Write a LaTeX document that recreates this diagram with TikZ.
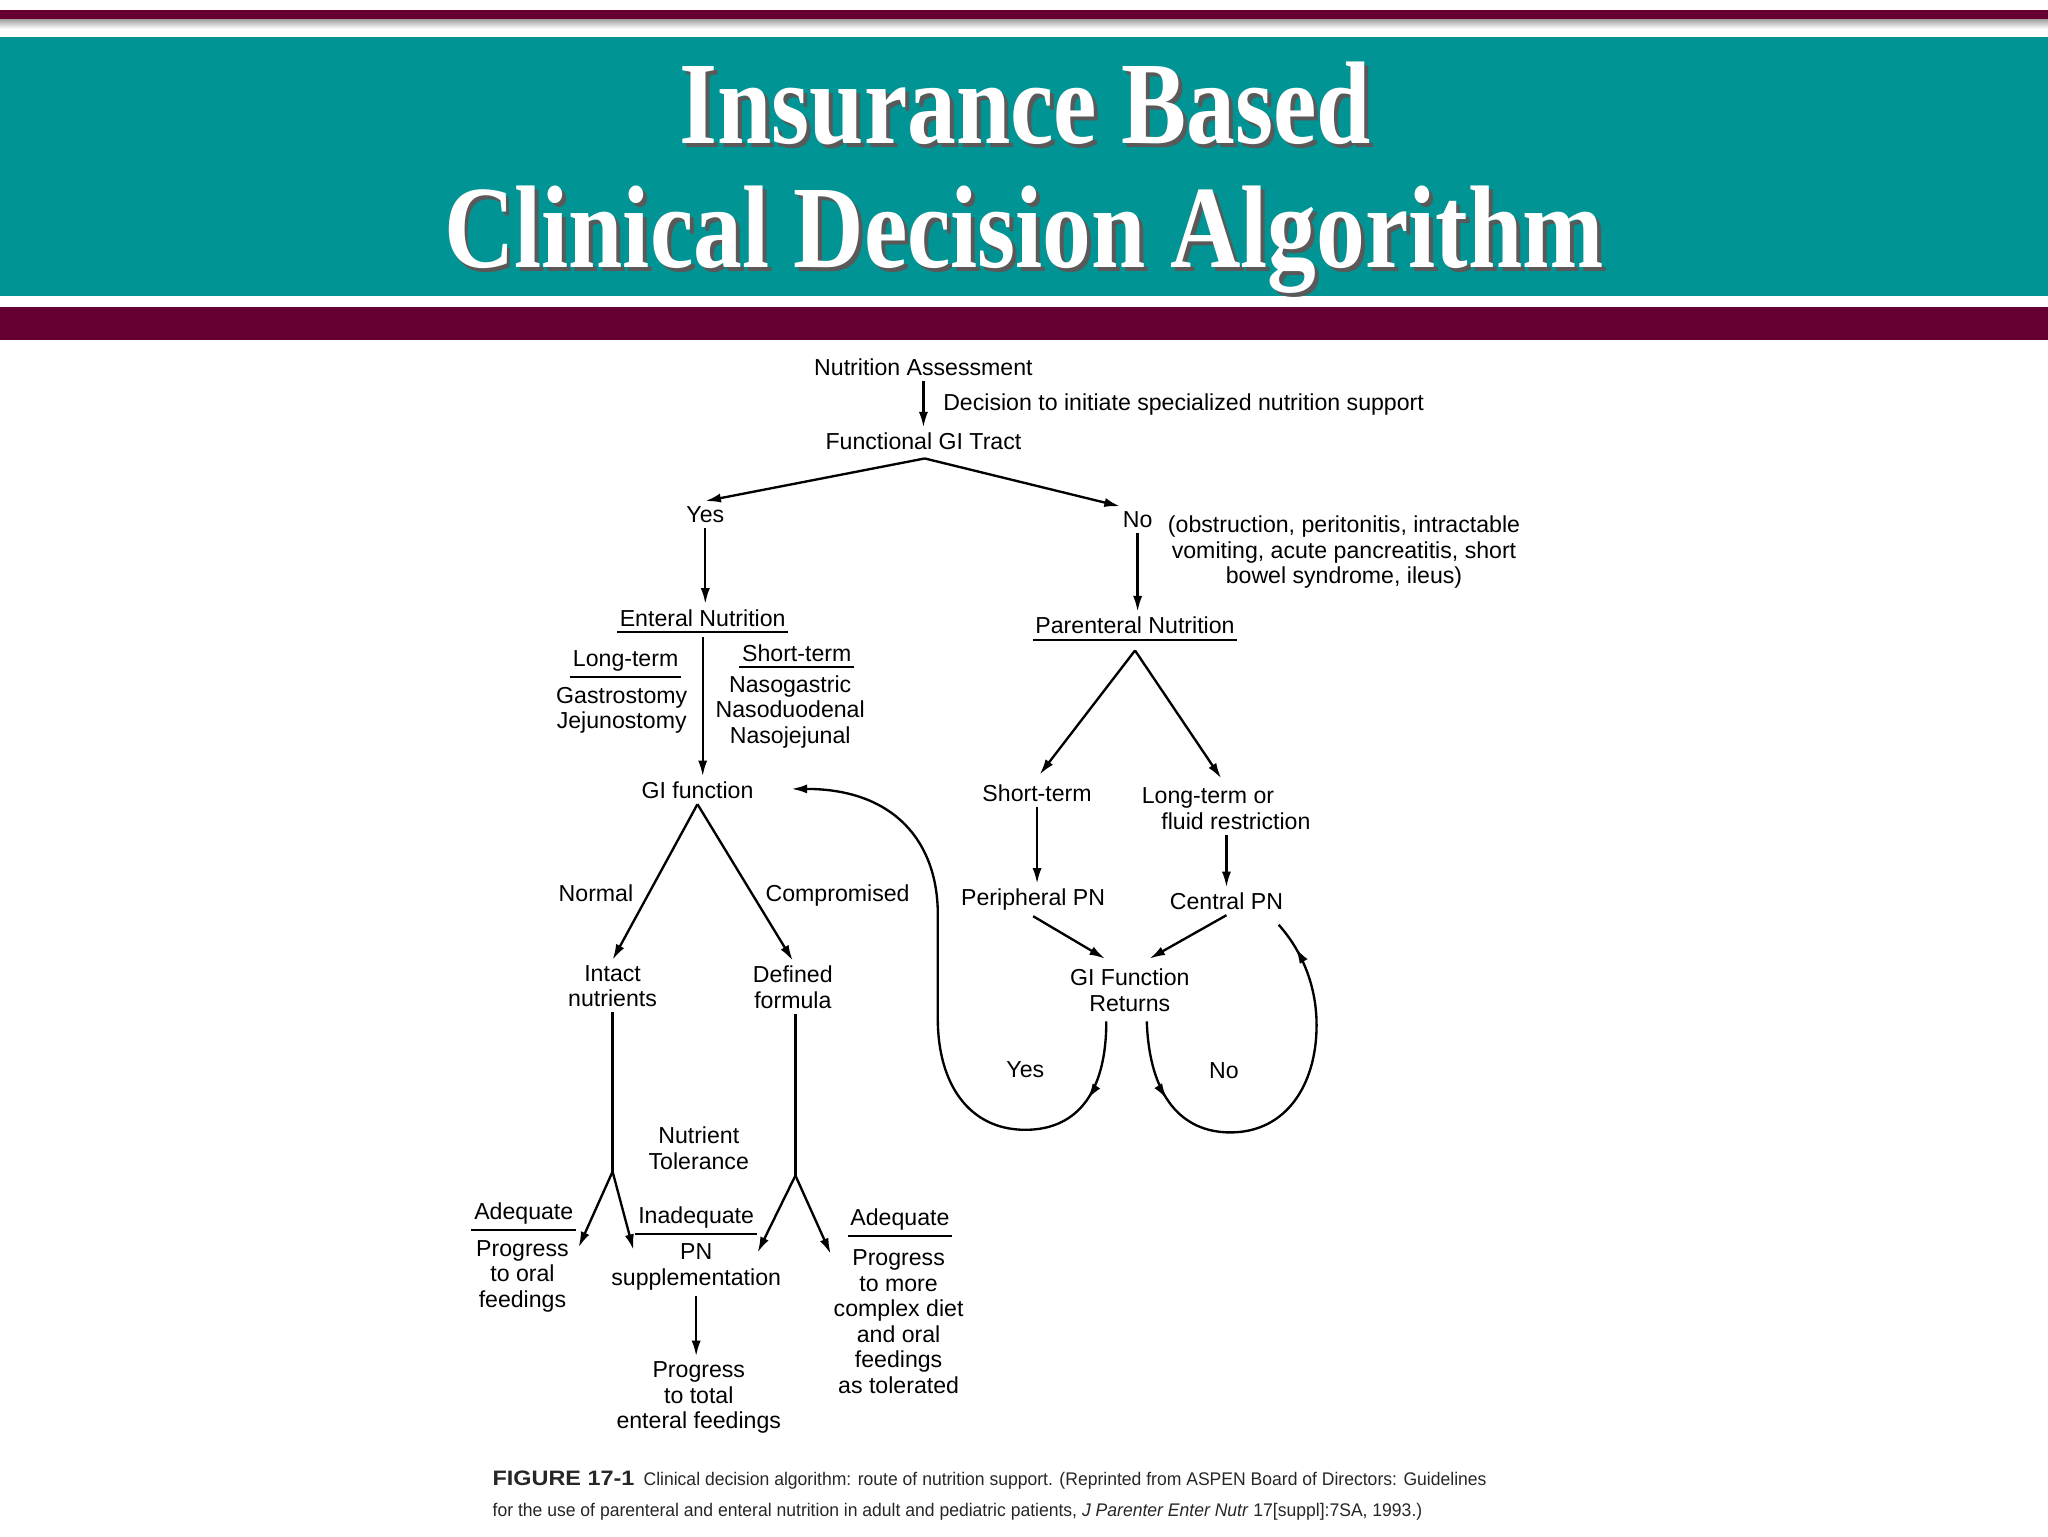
\documentclass[tikz,border=0pt]{standalone}
\usepackage{fontspec}
\setmainfont{Liberation Sans}
\newfontfamily\titlefont[FakeStretch=0.83]{Liberation Serif}
\newfontfamily\capfont[FakeStretch=0.96]{Liberation Sans}
\newfontfamily\figfont[FakeStretch=1.12]{Liberation Sans}
\usetikzlibrary{arrows.meta,decorations.markings,calc}
\definecolor{slideteal}{RGB}{0,148,148}
\definecolor{slidemaroon}{RGB}{102,0,51}
\tikzset{
  txt/.style={inner xsep=2pt, inner ysep=4pt, align=center, font=\fontsize{17.7}{19.5}\selectfont},
  arr/.style={line width=1.8pt, -{Latex[length=12pt,width=7pt]}},
  ln/.style={line width=1.8pt},
  uline/.style={line width=1.4pt},
  midarr/.style={postaction={decorate}, decoration={markings, mark=at position #1 with {\arrow{Latex[length=12pt,width=7pt]}}}},
}
\begin{document}
\begin{tikzpicture}[x=1pt,y=-1pt]
\useasboundingbox (0,0) rectangle (1568,1176);
% slide header
\fill[slidemaroon] (0,8) rectangle (1568,15);
\shade[top color=black!35, bottom color=white] (0,15) rectangle (1568,22);
\fill[slideteal] (0,28) rectangle (1568,227);
\fill[slidemaroon] (0,235) rectangle (1568,260);
\foreach \d/\c in {3/black!65, 0/white} {
  \node[anchor=base, text=\c, font=\titlefont\bfseries\fontsize{90}{90}\selectfont] (titleA\d) at (785+\d,110+\d) {Insurance Based};
  \node[anchor=base, text=\c, font=\titlefont\bfseries\fontsize{90}{90}\selectfont] (titleB\d) at (784+\d,205+\d) {Clinical Decision Algorithm};
}
% top of tree
\node[txt] (assess) at (707,281) {Nutrition Assessment};
\node[txt] (fgi) at (707,338) {Functional GI Tract};
\node[txt, anchor=west] (decide) at (720,310) {Decision to initiate specialized nutrition support};
\coordinate (forkT) at (708,351);
\node[txt] (yes) at (540,394) {Yes};
\node[txt] (no) at (871,398) {No};
\node[txt, anchor=north] (reason) at (1029,391) {(obstruction, peritonitis, intractable\\vomiting, acute pancreatitis, short\\bowel syndrome, ileus)};
% enteral side
\node[txt] (enteral) at (538,473) {Enteral Nutrition};
\node[txt] (longt) at (479,506) {Long-term};
\node[txt] (gastro) at (476,544) {Gastrostomy\\Jejunostomy};
\node[txt] (shortt) at (610,500) {Short-term};
\node[txt] (naso) at (605,545) {Nasogastric\\Nasoduodenal\\Nasojejunal};
\node[txt] (gi) at (534,605) {GI function};
\node[txt, anchor=east] (normal) at (487,684) {Normal};
\node[txt, anchor=west] (comp) at (584,686) {Compromised};
\node[txt] (intact) at (469,755) {Intact\\nutrients};
\node[txt] (defined) at (607,756) {Defined\\formula};
\coordinate (forkL) at (469,897);
\coordinate (forkR) at (609,900);
\node[txt] (toler) at (535,879) {Nutrient\\Tolerance};
\node[txt] (adeqL) at (401,929) {Adequate};
\node[txt] (oral) at (400,977) {Progress\\to oral\\feedings};
\node[txt] (inadeq) at (533,932) {Inadequate};
\node[txt] (pnsup) at (533,970) {PN\\supplementation};
\node[txt] (total) at (535,1070) {Progress\\to total\\enteral feedings};
\node[txt] (adeqR) at (689,934) {Adequate};
\node[txt] (complex) at (688,1012) {Progress\\to more\\complex diet\\and oral\\feedings\\as tolerated};
\coordinate (tipLa) at (443,955);
\coordinate (tipLb) at (485,957);
\coordinate (tipRa) at (580,959);
\coordinate (tipRb) at (636,960);
% parenteral side
\node[txt] (parent) at (869,479) {Parenteral Nutrition};
\coordinate (forkP) at (869,498);
\coordinate (tipPa) at (796,593);
\coordinate (tipPb) at (935,596);
\node[txt] (shortp) at (794,607) {Short-term};
\node[txt, align=left, anchor=north west] (longp) at (872,599) {Long-term or\\\hspace*{15pt}fluid restriction};
\node[txt] (periph) at (791,689) {Peripheral PN};
\node[txt] (central) at (939,690) {Central PN};
\node[txt] (returns) at (865,758) {GI Function\\Returns};
\coordinate (tipRet1) at (846,734);
\coordinate (tipRet2) at (880,734);
\node[txt] (yesR) at (785,819) {Yes};
\node[txt] (noR) at (937,820) {No};
\coordinate (yesStart) at (847,782);
\coordinate (noStart) at (878,782);
\coordinate (noEnd) at (979,708);
\coordinate (tipGI) at (606,604);
% caption
\node[anchor=north west, align=left, inner sep=0, text=black!85, font=\capfont\fontsize{14}{24}\selectfont] (caption) at (377,1126)
  {{\figfont\bfseries\fontsize{16}{24}\selectfont FIGURE 17-1}\enspace Clinical decision algorithm: route of nutrition support. (Reprinted from ASPEN Board of Directors: Guidelines\\
   for the use of parenteral and enteral nutrition in adult and pediatric patients, \textit{J Parenter Enter Nutr} 17[suppl]:7SA, 1993.)};
% connectors
\draw[arr] (assess.south) -- (assess.south |- fgi.north);
\draw[arr] (forkT) -- (yes.north);
\draw[arr] (forkT) -- (no.north west);
\draw[arr] (yes.south) -- (yes.south |- enteral.north);
\draw[arr] (no.south) -- (no.south |- parent.north);
\foreach \n in {enteral,longt,shortt,parent,adeqL,inadeq,adeqR}
  \draw[uline] (\n.south west) -- (\n.south east);
\draw[arr, shorten <=4pt] (enteral.south) -- (enteral.south |- gi.north);
\draw[arr] (gi.south) -- (intact.north);
\draw[arr] (gi.south) -- (defined.north);
\draw[ln] (forkL |- intact.south) -- (forkL);
\draw[ln] (forkR |- defined.south) -- (forkR);
\foreach \f/\t in {forkL/tipLa, forkL/tipLb, forkR/tipRa, forkR/tipRb, forkP/tipPa, forkP/tipPb}
  \draw[arr] (\f) -- (\t);
\draw[arr] (pnsup.south) -- (pnsup.south |- total.north);
\draw[arr] (shortp.south) -- (shortp.south |- periph.north);
\draw[arr] (central.north |- longp.south) -- (central.north);
\draw[arr] (periph.south) -- (tipRet1);
\draw[arr] (central.south) -- (tipRet2);
% loops
\draw[arr, midarr=62pt] (yesStart) .. controls (847,840) and (822,865) .. (785,865)
  .. controls (742,865) and (718,830) .. (718,780) -- (718,700)
  .. controls (718,645) and (685,604) .. (tipGI);
\draw[ln, postaction={decorate}, decoration={markings,
    mark=at position 62pt with {\arrow{Latex[length=12pt,width=7pt]}},
    mark=at position -22pt with {\arrow{Latex[length=12pt,width=7pt]}}}]
  (noStart) .. controls (880,840) and (905,867) .. (942,867)
  .. controls (985,867) and (1008,830) .. (1008,785)
  .. controls (1008,752) and (995,726) .. (noEnd);
\end{tikzpicture}
\end{document}
